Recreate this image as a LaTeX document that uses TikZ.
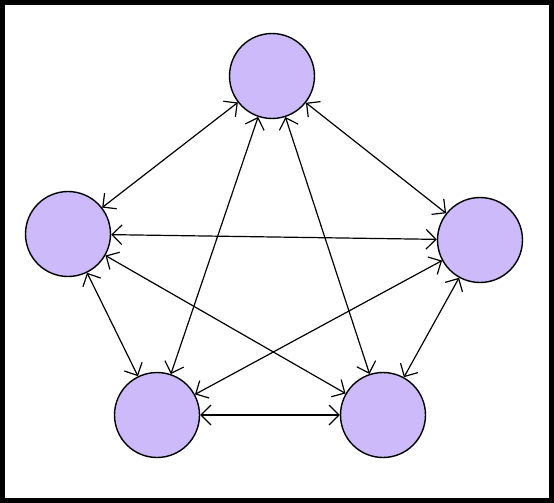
\documentclass[tikz,border=0pt]{standalone}
\usetikzlibrary{arrows.meta}
\definecolor{nodefill}{RGB}{204,186,250}
\begin{document}
\begin{tikzpicture}[x=1pt,y=-1pt,
  vert/.style={circle,draw=black,line width=1.4pt,fill=nodefill,minimum size=85pt,inner sep=0pt},
  link/.style={line width=1.2pt,{Straight Barb[angle=90:14pt]}-{Straight Barb[angle=90:14pt]}}]
\useasboundingbox (0,0) rectangle (554,503);
\draw[line width=5pt] (2.5,2.5) rectangle (551.5,500.5);
\node[vert] (t) at (272,76) {};
\node[vert] (l) at (68,234) {};
\node[vert] (r) at (480,240) {};
\node[vert] (bl) at (157,415) {};
\node[vert] (br) at (383,415) {};
\draw[link] (t) -- (l);
\draw[link] (t) -- (r);
\draw[link] (t) -- (bl);
\draw[link] (t) -- (br);
\draw[link] (l) -- (r);
\draw[link] (l) -- (bl);
\draw[link] (l) -- (br);
\draw[link] (r) -- (bl);
\draw[link] (r) -- (br);
\draw[link] (bl) -- (br);
\end{tikzpicture}
\end{document}
